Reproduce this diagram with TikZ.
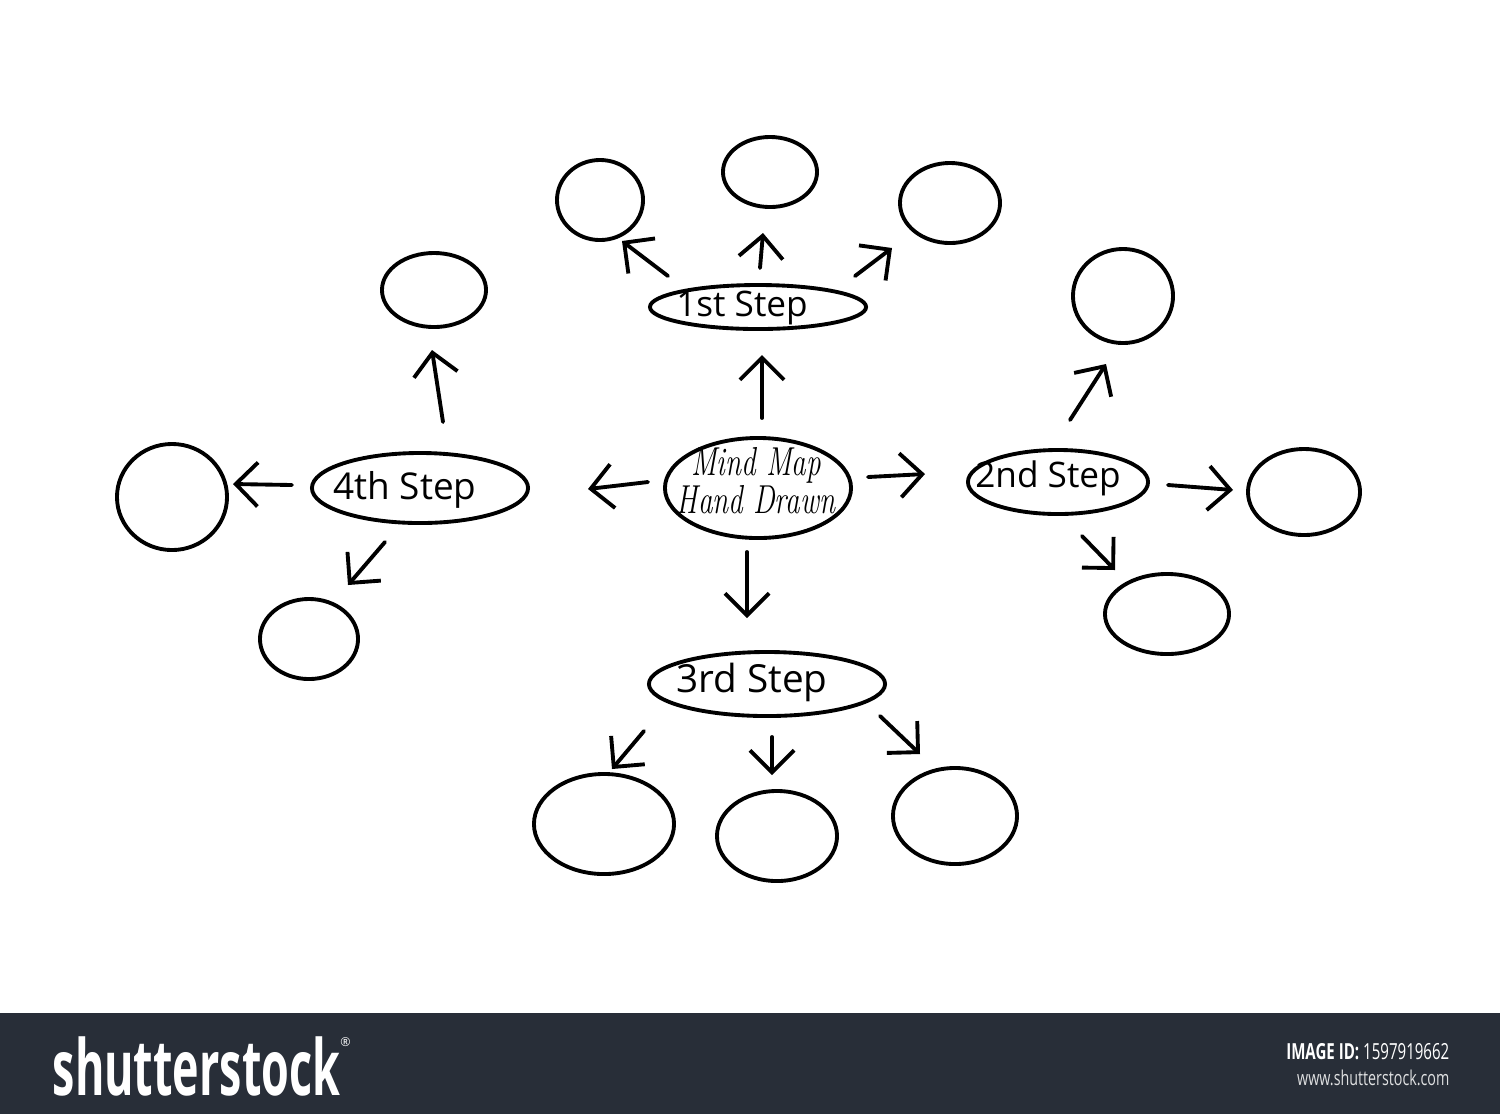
\documentclass[tikz,border=0pt]{standalone}
\usepackage{fontspec}
\setsansfont{Open Sans}
\usetikzlibrary{shapes.geometric,arrows.meta}
\definecolor{banner}{HTML}{282E38}
\tikzset{
  hand/.style={draw=black, line width=1.1pt},
  bub/.style={hand, ellipse, inner sep=0pt},
  steptext/.style={inner sep=0pt, font=\sffamily\fontsize{10}{11}\selectfont},
  arr/.style={line width=1.1pt, -{Straight Barb[length=2.2mm,width=4.4mm]}, line cap=round},
}
\begin{document}
\begin{tikzpicture}[x=0.01cm,y=-0.01cm]
\useasboundingbox (0,0) rectangle (1500,1114);
\fill[white] (0,0) rectangle (1500,1114);
% banner
\fill[banner] (0,1013) rectangle (1500,1114);
\node[anchor=west, text=white, inner sep=0pt] (logo) at (52,1066)
  {\scalebox{0.58}[1]{\sffamily\bfseries\fontsize{22}{24}\selectfont shutterstock}\raisebox{3.2ex}{\sffamily\fontsize{3.5}{4}\selectfont\textregistered}};
\node[anchor=east, text=white, inner sep=0pt] (imgid) at (1450,1052)
  {\scalebox{0.68}[1]{\sffamily\fontsize{6.3}{7}\selectfont\textbf{IMAGE ID:} 1597919662}};
\node[anchor=east, text=white!85!banner, inner sep=0pt] (www) at (1450,1078)
  {\scalebox{0.7}[1]{\sffamily\fontsize{5.8}{7}\selectfont www.shutterstock.com}};

% central node
\node[bub, minimum width=1.86cm, minimum height=1.0cm] (c) at (758,488) {};
\node[inner sep=0pt] (ct) at (756,486)
  {\scalebox{0.72}[1]{\begin{tabular}{@{}c@{}}\itshape\fontsize{11.5}{10.5}\selectfont Mind Map\\[-1pt]\itshape\fontsize{11.5}{10.5}\selectfont Hand Drawn\end{tabular}}};
% steps
\node[bub, minimum width=2.16cm, minimum height=0.44cm] (s1) at (758,307) {};
\node[steptext] (t1) at (742,308) {1st Step};
\node[bub, minimum width=1.80cm, minimum height=0.64cm] (s2) at (1058,482) {};
\node[steptext] (t2) at (1048,478) {2nd Step};
\node[bub, minimum width=2.36cm, minimum height=0.64cm] (s3) at (767,684) {};
\node[steptext, font=\sffamily\fontsize{11}{12}\selectfont] (t3) at (752,682) {3rd Step};
\node[bub, minimum width=2.16cm, minimum height=0.70cm] (s4) at (420,488) {};
\node[steptext, font=\sffamily\fontsize{10.5}{12}\selectfont] (t4) at (405,490) {4th Step};
% leaves of 1st
\node[bub, minimum width=0.86cm, minimum height=0.80cm] (a1) at (600,200) {};
\node[bub, minimum width=0.94cm, minimum height=0.70cm] (a2) at (770,172) {};
\node[bub, minimum width=1.00cm, minimum height=0.80cm] (a3) at (950,203) {};
% leaves of 2nd
\node[bub, minimum width=1.00cm, minimum height=0.94cm] (b1) at (1123,296) {};
\node[bub, minimum width=1.12cm, minimum height=0.86cm] (b2) at (1304,492) {};
\node[bub, minimum width=1.24cm, minimum height=0.80cm] (b3) at (1167,614) {};
% leaves of 3rd
\node[bub, minimum width=1.40cm, minimum height=1.00cm] (d1) at (604,824) {};
\node[bub, minimum width=1.20cm, minimum height=0.90cm] (d2) at (777,836) {};
\node[bub, minimum width=1.24cm, minimum height=0.96cm] (d3) at (955,816) {};
% leaves of 4th
\node[bub, minimum width=1.04cm, minimum height=0.74cm] (e1) at (434,290) {};
\node[bub, minimum width=1.10cm, minimum height=1.06cm] (e2) at (172,497) {};
\node[bub, minimum width=0.98cm, minimum height=0.80cm] (e3) at (309,639) {};

% arrows from centre
\draw[arr] ([shift={(4,-70)}]c.center) -- ([shift={(4,48)}]s1.center);
\draw[arr] ([shift={(110,-11)}]c.center) -- ([shift={(-133,-8)}]s2.center);
\draw[arr] ([shift={(-11,64)}]c.center) -- ([shift={(-20,-66)}]s3.center);
\draw[arr] ([shift={(-110,-6)}]c.center) -- ([shift={(168,1)}]s4.center);
% 1st
\draw[arr] ([shift={(-90,-31)}]s1.center) -- ([shift={(22,41)}]a1.center);
\draw[arr] ([shift={(2,-39)}]s1.center) -- ([shift={(-7,61)}]a2.center);
\draw[arr] ([shift={(97,-31)}]s1.center) -- ([shift={(-58,45)}]a3.center);
% 2nd
\draw[arr] ([shift={(12,-62)}]s2.center) -- ([shift={(-17,68)}]b1.center);
\draw[arr] ([shift={(110,3)}]s2.center) -- ([shift={(-71,-2)}]b2.center);
\draw[arr] ([shift={(24,54)}]s2.center) -- ([shift={(-52,-44)}]b3.center);
% 3rd
\draw[arr] ([shift={(-123,47)}]s3.center) -- ([shift={(8,-55)}]d1.center);
\draw[arr] ([shift={(5,53)}]s3.center) -- ([shift={(-5,-61)}]d2.center);
\draw[arr] ([shift={(113,32)}]s3.center) -- ([shift={(-35,-62)}]d3.center);
% 4th
\draw[arr] ([shift={(23,-66)}]s4.center) -- ([shift={(-2,60)}]e1.center);
\draw[arr] ([shift={(-128,-3)}]s4.center) -- ([shift={(61,-13)}]e2.center);
\draw[arr] ([shift={(-35,54)}]s4.center) -- ([shift={(39,-54)}]e3.center);
\end{tikzpicture}
\end{document}
